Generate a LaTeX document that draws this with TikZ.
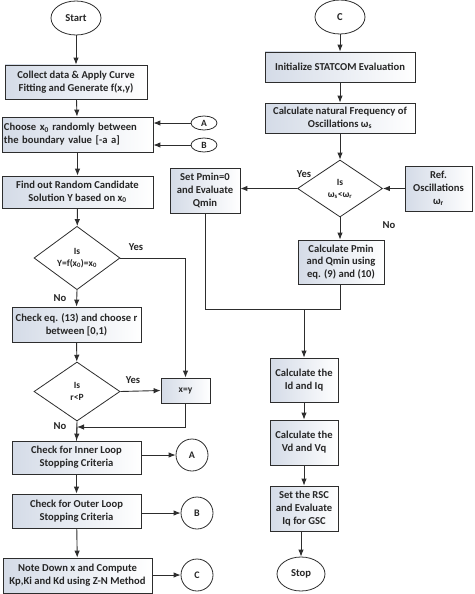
\documentclass[tikz,border=0pt]{standalone}
\usepackage{fontspec}
\setmainfont{Carlito}
\usetikzlibrary{shapes.geometric,arrows.meta,shadows}
\definecolor{boxblue}{RGB}{212,219,231}
\definecolor{linec}{RGB}{45,45,45}
\tikzset{
  base/.style={draw=linec, line width=0.8pt, font=\bfseries\fontsize{10.6}{12.8}\selectfont, text=black!85, inner sep=1pt},
  procbox/.style={base, rectangle, left color=boxblue, right color=white, align=center,
     drop shadow={shadow xshift=1.2pt, shadow yshift=-1.2pt, opacity=0.35, fill=black!60}},
  decbox/.style={base, diamond, fill=white, align=center, font=\bfseries\fontsize{9.5}{12}\selectfont},
  termell/.style={base, ellipse, fill=white, minimum width=50pt, minimum height=34pt},
  conn/.style={base, circle, fill=white, minimum size=32pt, font=\bfseries\fontsize{10}{11}\selectfont},
  connsm/.style={base, ellipse, fill=white, minimum width=26pt, minimum height=14pt, inner sep=0pt, font=\bfseries\fontsize{9.5}{11}\selectfont},
  flow/.style={draw=linec, line width=0.9pt, -{Latex[length=7pt,width=5.5pt]}},
  plain/.style={draw=linec, line width=0.9pt},
  lbl/.style={font=\bfseries\fontsize{10.6}{12}\selectfont, text=black!85}
}
\begin{document}
\begin{tikzpicture}[x=1pt,y=-1pt]
\useasboundingbox (0,0) rectangle (474,594);
% ---------------- left column ----------------
\node[termell] (start) at (76,18) {Start};
\node[procbox, minimum width=142pt, minimum height=34pt] (collect) at (76,82) {Collect data \& Apply Curve\\Fitting and Generate f(x,y)};
\node[procbox, minimum width=151pt, minimum height=35pt, text width=147pt, align=left] (choose) at (77.5,134.5) {Choose x\textsubscript{0} randomly between\\the boundary value [-a a]};
\node[connsm] (a1) at (204,123) {A};
\node[connsm] (b1) at (204,145) {B};
\node[procbox, minimum width=151pt, minimum height=32pt] (find) at (77.5,192) {Find out Random Candidate\\Solution Y based on x\textsubscript{0}};
\node[decbox, minimum width=86pt, minimum height=58pt] (d1) at (77,258) {Is\\Y=f(x\textsubscript{0})=x\textsubscript{0}};
\node[procbox, minimum width=129pt, minimum height=35pt] (check) at (76.5,324.5) {Check eq. (13) and choose r\\between [0,1)};
\node[decbox, minimum width=86pt, minimum height=59pt] (d2) at (77,391.5) {Is\\r<P};
\node[procbox, minimum width=49pt, minimum height=25pt, font=\bfseries\fontsize{9.5}{11}\selectfont] (xy) at (185.5,390.5) {x=y};
\node[procbox, minimum width=129pt, minimum height=33pt] (inner) at (76.5,457.5) {Check for Inner Loop\\Stopping Criteria};
\node[procbox, minimum width=129pt, minimum height=34pt] (outer) at (76.5,511) {Check for Outer Loop\\Stopping Criteria};
\node[procbox, minimum width=149pt, minimum height=35pt] (note) at (77.5,575.5) {Note Down x and Compute\\Kp,Ki and Kd using Z-N Method};
\node[conn] (a2) at (192,455) {A};
\node[conn] (b2) at (197,513) {B};
\node[conn] (c2) at (197,575) {C};
\coordinate (j1) at (77,427);

\draw[flow] (start) -- (collect);
\draw[flow] (collect) -- (choose);
\draw[flow] (a1.west) -- (a1.west -| choose.east);
\draw[flow] (b1.west) -- (b1.west -| choose.east);
\draw[flow] (choose) -- (find);
\draw[flow] (find) -- (d1);
\draw[flow] (d1.east) -| (xy.north);
\node[lbl] at (136,247) {Yes};
\draw[flow] (d1.south) -- (check.north);
\node[lbl] at (60,298) {No};
\draw[flow] (check) -- (d2);
\draw[flow] (d2.east) -- (xy.west);
\node[lbl] at (133,380) {Yes};
\draw[plain] (d2.south) -- (inner.north);
\draw[flow] (xy.south) |- (j1);
\node[lbl] at (60,426) {No};
\draw[flow] (j1) -- (inner.north);
\draw[flow] (inner.east |- a2.west) -- (a2.west);
\draw[flow] (inner) -- (outer);
\draw[flow] (outer.east |- b2.west) -- (b2.west);
\draw[flow] (outer) -- (note);
\draw[flow] (note.east |- c2.west) -- (c2.west);

% ---------------- right column ----------------
\node[termell] (cstart) at (340,17) {C};
\node[procbox, minimum width=150pt, minimum height=30pt] (init) at (340,67) {Initialize STATCOM Evaluation};
\node[procbox, minimum width=150pt, minimum height=30pt] (nat) at (340,118) {Calculate natural Frequency of\\Oscillations ω\textsubscript{s}};
\node[decbox, minimum width=85pt, minimum height=57pt] (d3) at (340,188.5) {Is\\ω\textsubscript{s}<ω\textsubscript{r}};
\node[procbox, minimum width=70pt, minimum height=45pt] (setp) at (205,190.5) {Set Pmin=0\\and Evaluate\\Qmin};
\node[procbox, minimum width=67pt, minimum height=45pt] (ref) at (438.5,188.5) {Ref.\\Oscillations\\ω\textsubscript{r}};
\node[procbox, minimum width=86pt, minimum height=44pt] (calcp) at (341,262) {Calculate Pmin\\and Qmin using\\eq. (9) and (10)};
\node[procbox, minimum width=68pt, minimum height=44pt] (id) at (304,380) {Calculate the\\Id and Iq};
\node[procbox, minimum width=68pt, minimum height=45pt] (vd) at (304,442.5) {Calculate the\\Vd and Vq};
\node[procbox, minimum width=68pt, minimum height=45pt] (rsc) at (304,508.5) {Set the RSC\\and Evaluate\\Iq for GSC};
\node[termell, minimum width=48pt] (stop) at (301,574) {Stop};
\coordinate (j2) at (304,309);

\draw[flow] (cstart) -- (init);
\draw[flow] (init) -- (nat);
\draw[flow] (nat) -- (d3);
\draw[flow] (d3.west) -- (d3.west -| setp.east);
\node[lbl] at (304,174) {Yes};
\draw[flow] (ref.west |- d3.east) -- (d3.east);
\draw[flow] (d3.south) -- (d3.south |- calcp.north);
\node[lbl] at (389,225) {No};
\draw[plain] (calcp.south -| d3.south) |- (j2);
\draw[plain] (setp.south) |- (j2);
\draw[flow] (j2) -- (id.north);
\draw[flow] (id) -- (vd);
\draw[flow] (vd) -- (rsc);
\draw[flow] (rsc.south -| stop.north) -- (stop.north);
\end{tikzpicture}
\end{document}
